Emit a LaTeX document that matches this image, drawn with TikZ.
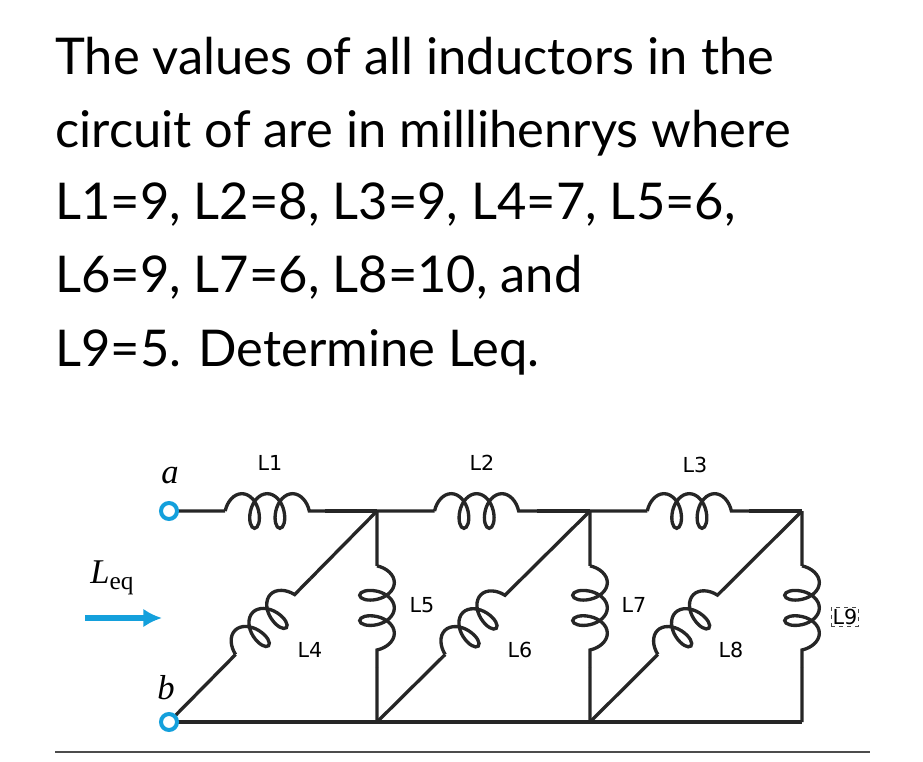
\documentclass[tikz,border=0pt]{standalone}
\usepackage{fontspec}
\setmainfont{Lato}
\newfontfamily\lblfont{DejaVu Sans}
\usetikzlibrary{decorations.pathmorphing,calc,arrows.meta}
\definecolor{cy}{RGB}{20,160,220}
\tikzset{
 wire/.style={line width=2.5pt,black!85},
 coil/.style={wire,decorate,decoration={coil,aspect=0.6,amplitude=13pt,segment length=19pt}},
 txt/.style={anchor=base west,font=\fontsize{38}{42}\selectfont,inner sep=0},
 lbl/.style={font=\lblfont\fontsize{15.5}{17}\selectfont,inner sep=1pt},
 term/.style={circle,draw=cy,line width=3pt,minimum size=12pt,inner sep=0,fill=white}
}
\begin{document}
\begin{tikzpicture}[x=0.75pt,y=-0.75pt]
\useasboundingbox (0,0) rectangle (923,762);
\node[txt] (t1) at (55,75) {The values of all inductors in the};
\node[txt] (t2) at (55,148) {circuit of are in millihenrys where};
\node[txt] (t3) at (55,220) {L1=9, L2=8, L3=9, L4=7, L5=6,};
\node[txt] (t4) at (55,293) {L6=9, L7=6, L8=10, and};
\node[txt] (t5) at (55,366) {L9=5. Determine Leq.};
\coordinate (a) at (169,511);
\coordinate (b) at (169,722);
\coordinate (n1) at (377,511);
\coordinate (n2) at (590,511);
\coordinate (n3) at (802,511);
\coordinate (m1) at (377,722);
\coordinate (m2) at (590,722);
\coordinate (m3) at (802,722);
% series
\foreach \p/\q in {a/n1,n1/n2,n2/n3}{
 \draw[wire] (\p) -- ($(\p)!0.27!(\q)$);
 \draw[coil] ($(\p)!0.27!(\q)$) -- ($(\p)!0.75!(\q)$);
 \draw[wire] ($(\p)!0.75!(\q)$) -- (\q);
}
% verticals
\foreach \p/\q in {n1/m1,n2/m2,n3/m3}{
 \draw[wire] (\p) -- ($(\p)!0.26!(\q)$);
 \draw[coil] ($(\p)!0.26!(\q)$) -- ($(\p)!0.74!(\q)$);
 \draw[wire] ($(\p)!0.74!(\q)$) -- (\q);
}
% diagonals
\foreach \p/\q in {b/n1,m1/n2,m2/n3}{
 \draw[wire] (\p) -- ($(\p)!0.32!(\q)$);
 \draw[coil] ($(\p)!0.32!(\q)$) -- ($(\p)!0.68!(\q)$);
 \draw[wire] ($(\p)!0.68!(\q)$) -- (\q);
}
\draw[wire] (b) -- (m3);
\node[term] (ta) at (a) {};
\node[term] (tb) at (b) {};
\node (la) at (170,476) {\fontspec{Liberation Serif}\itshape\fontsize{26}{28}\selectfont a};
\node (lb) at (166,688) {\fontspec{Liberation Serif}\itshape\fontsize{26}{28}\selectfont b};
\node (leq) at (112,578) {\fontspec{Liberation Serif}\fontsize{26}{28}\selectfont\itshape L\/\upshape\raisebox{-4pt}{\fontsize{19}{20}\selectfont eq}};
\coordinate (ar1) at (85,618);
\coordinate (ar2) at (162,618);
\draw[cy,line width=4.5pt,-{Latex[length=14pt,width=14pt]}] (ar1) -- (ar2);
\node[lbl] (l1) at (270,463) {L1};
\node[lbl] (l2) at (482,463) {L2};
\node[lbl] (l3) at (695,465) {L3};
\node[lbl] (l4) at (310,650) {L4};
\node[lbl] (l5) at (422,605) {L5};
\node[lbl] (l6) at (520,650) {L6};
\node[lbl] (l7) at (634,605) {L7};
\node[lbl] (l8) at (731,650) {L8};
\node[lbl,draw=black!70,dashed,line width=0.6pt,inner sep=1pt] (l9) at (845,617) {L9};
\coordinate (hr1) at (55,752);
\coordinate (hr2) at (870,752);
\draw[black!70,line width=1.5pt] (hr1) -- (hr2);
\end{tikzpicture}
\end{document}
